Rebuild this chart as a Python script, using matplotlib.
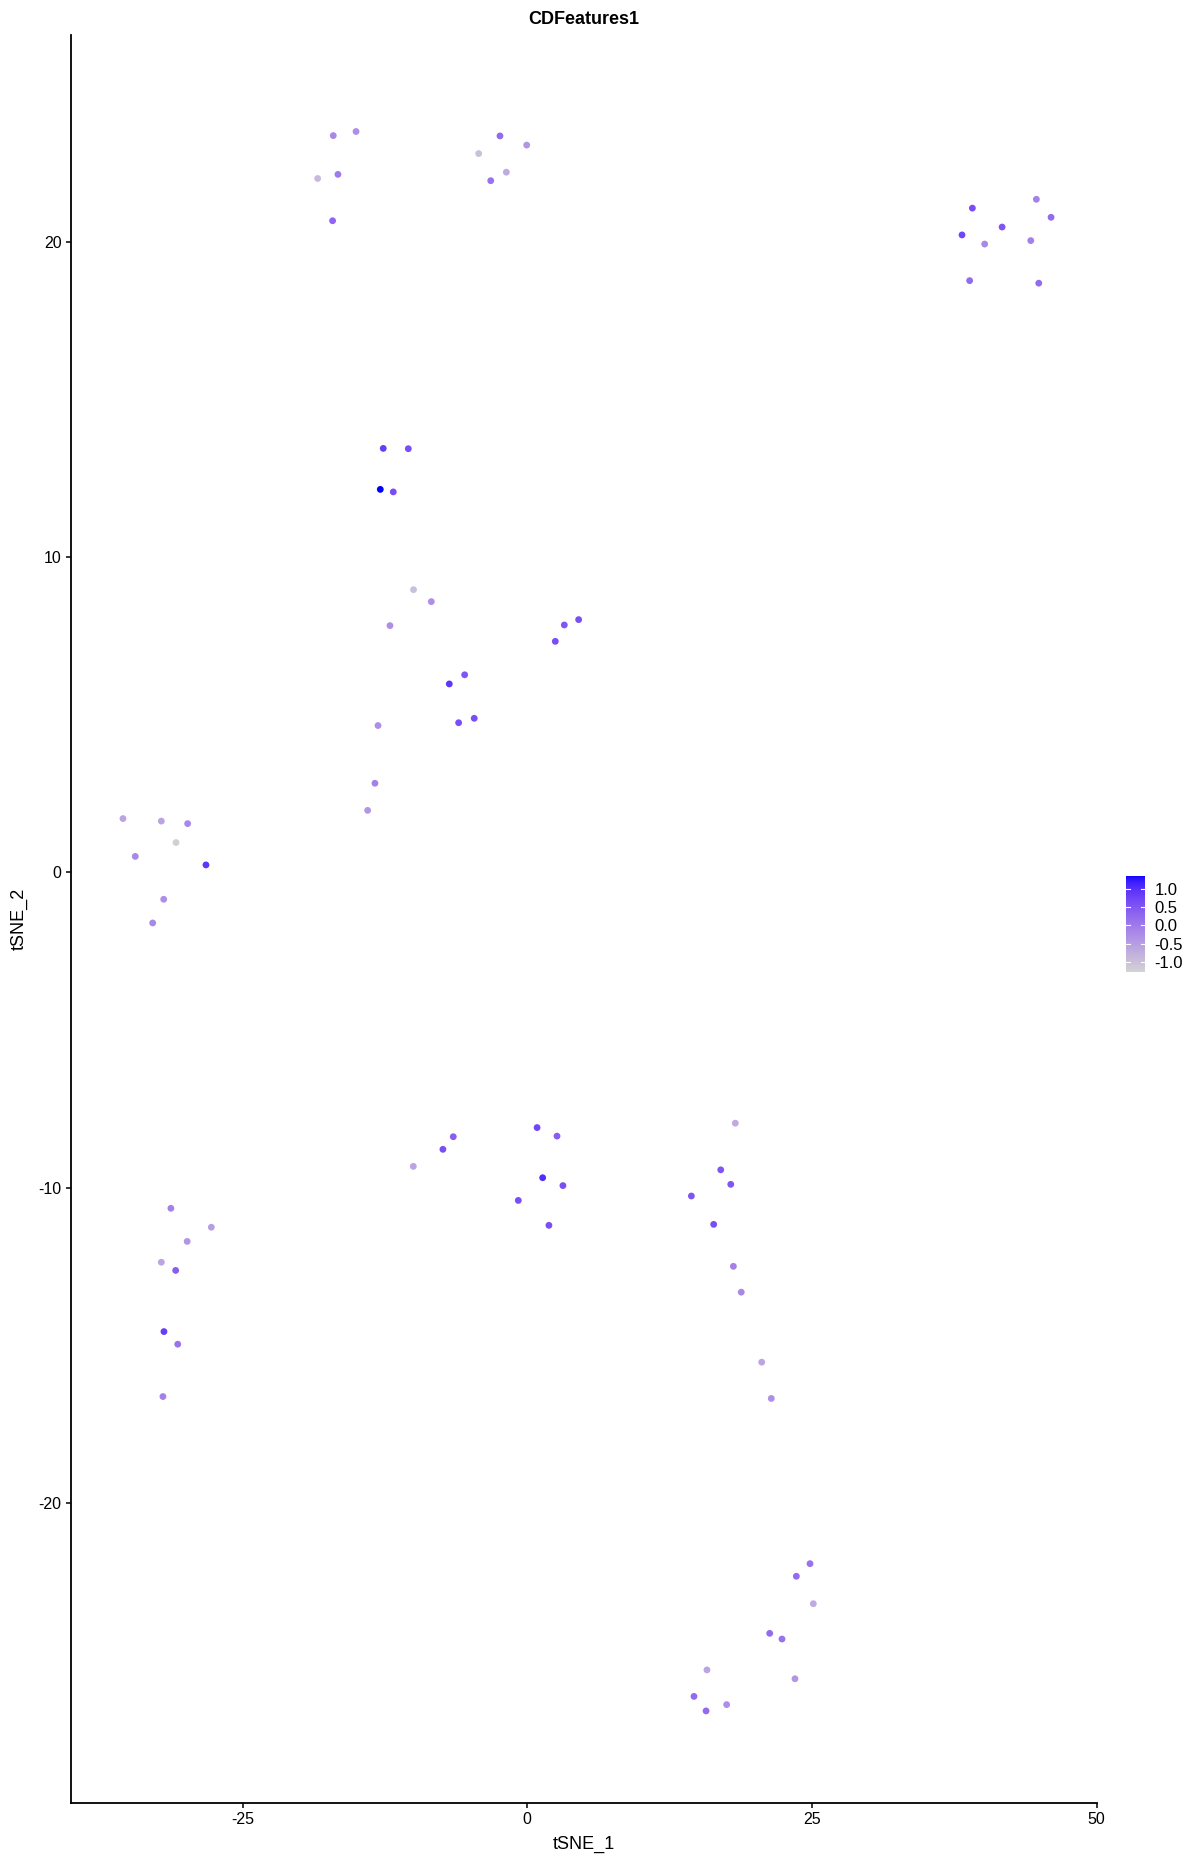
import matplotlib
matplotlib.use("Agg")
import matplotlib.pyplot as plt
from matplotlib.colors import ListedColormap, Normalize
import numpy as np

plt.rcParams["font.family"] = ["Liberation Sans", "DejaVu Sans"]
plt.rcParams["axes.unicode_minus"] = False

TITLE = "CDFeatures1"

tsne_1 = [-17.04, -15.04, -18.41, -16.63, -17.10, -2.40, -0.05, -4.27, -1.84, -3.21,
          39.09, 44.71, 46.00, 41.70, 38.18, 40.17, 44.22, 38.85, 44.92,
          -12.65, -10.45, -12.91, -11.77, -9.99, -8.43, -12.06, 4.51, 3.25, 2.46,
          -5.50, -6.85, -4.66, -6.03, -13.11, -13.38, -14.02,
          -35.51, -32.14, -29.83, -30.85, -34.43, -28.22, -31.93, -32.90,
          -6.50, -7.41, -10.01, 0.86, 2.61, 1.35, 3.13, -0.79, 1.90,
          18.27, 16.99, 17.87, 14.41, 16.37, 18.10, 18.79, 20.59, 21.43,
          -31.30, -27.75, -29.87, -32.14, -30.88, -31.91, -30.70, -32.00,
          24.83, 23.63, 25.12, 21.29, 22.37, 15.78, 23.51, 14.64, 17.51, 15.70]
tsne_2 = [23.37, 23.50, 22.01, 22.14, 20.67, 23.36, 23.07, 22.80, 22.21, 21.94,
          21.07, 21.35, 20.78, 20.47, 20.22, 19.93, 20.04, 18.77, 18.69,
          13.45, 13.44, 12.15, 12.07, 8.97, 8.59, 7.83, 8.02, 7.85, 7.33,
          6.27, 5.98, 4.89, 4.75, 4.66, 2.83, 1.97,
          1.71, 1.63, 1.55, 0.95, 0.51, 0.24, -0.85, -1.60,
          -8.38, -8.78, -9.32, -8.09, -8.36, -9.68, -9.93, -10.40, -11.19,
          -7.95, -9.43, -9.89, -10.26, -11.16, -12.49, -13.31, -15.53, -16.68,
          -10.65, -11.25, -11.70, -12.36, -12.62, -14.56, -14.96, -16.62,
          -21.92, -22.32, -23.19, -24.13, -24.31, -25.29, -25.57, -26.13, -26.39, -26.59]
expr = [-0.2, -0.3, -0.9, 0.0, 0.3, 0.2, -0.4, -1.0, -0.7, 0.1,
        0.6, -0.1, 0.2, 0.5, 0.7, -0.2, -0.1, 0.2, 0.2,
        0.8, 0.6, 1.34, 0.6, -1.0, -0.3, -0.3, 0.6, 0.5, 0.6,
        0.5, 0.9, 0.6, 0.6, -0.3, -0.1, -0.4,
        -0.6, -0.6, -0.2, -1.2, -0.2, 0.9, -0.3, -0.2,
        0.4, 0.6, -0.6, 0.7, 0.4, 1.0, 0.6, 0.6, 0.6,
        -0.7, 0.5, 0.5, 0.5, 0.6, -0.1, -0.2, -0.6, -0.3,
        -0.1, -0.5, -0.4, -0.6, 0.4, 0.8, 0.1, -0.1,
        0.1, 0.2, -0.7, 0.2, 0.1, -0.6, -0.4, 0.2, -0.3, 0.2]

VMIN, VMAX = -1.27, 1.34
CBAR_TICKS = [-1.0, -0.5, 0.0, 0.5, 1.0]
X_TICKS = [-25, 0, 25, 50]
Y_TICKS = [-20, -10, 0, 10, 20]


def lab_to_rgb(L, a, b):
    fy = (L + 16) / 116
    fx = fy + a / 500
    fz = fy - b / 200

    def finv(t):
        return np.where(t > 6 / 29, t ** 3, 3 * (6 / 29) ** 2 * (t - 4 / 29))

    xyz = np.array([0.95047 * finv(fx), finv(fy), 1.08883 * finv(fz)])
    m = np.array([[3.2406, -1.5372, -0.4986],
                  [-0.9689, 1.8758, 0.0415],
                  [0.0557, -0.2040, 1.0570]])
    lin = np.clip(m @ xyz, 0, 1)
    rgb = np.where(lin <= 0.0031308, 12.92 * lin, 1.055 * lin ** (1 / 2.4) - 0.055)
    return np.clip(rgb.T, 0, 1)


# lightgrey -> blue, interpolated in Lab like ggplot
t = np.linspace(0, 1, 256)
grey_lab = np.array([84.556, 0.0, 0.0])
blue_lab = np.array([32.303, 79.197, -107.864])
lab = grey_lab[None, :] + t[:, None] * (blue_lab - grey_lab)[None, :]
cmap = ListedColormap(lab_to_rgb(lab[:, 0], lab[:, 1], lab[:, 2]))
norm = Normalize(VMIN, VMAX)

W, H = 1200, 1868
fig = plt.figure(figsize=(W / 100, H / 100), dpi=100)
# panel: x 70.7..1096.6 px, y 34.7..1803.3 px
ax = fig.add_axes([70.7 / W, 1 - 1803.3 / H, (1096.6 - 70.7) / W, (1803.3 - 34.7) / H])

ax.scatter(tsne_1, tsne_2, c=expr, cmap=cmap, norm=norm, s=24, linewidths=0)

ax.set_xlim(-40.1, 50)
ax.set_ylim(-29.52, 26.57)
ax.set_xticks(X_TICKS)
ax.set_yticks(Y_TICKS)
for side in ["top", "right"]:
    ax.spines[side].set_visible(False)
for side in ["left", "bottom"]:
    ax.spines[side].set_linewidth(1.3)
ax.tick_params(length=3.5, width=1.1, labelsize=11.5, colors="black", pad=3)
ax.set_xlabel("tSNE_1", fontsize=13, labelpad=6)
ax.set_ylabel("tSNE_2", fontsize=13, labelpad=8)
ax.set_title(TITLE, fontsize=13, fontweight="bold", pad=8)

# colour bar
cax = fig.add_axes([1126 / W, 1 - 972 / H, 19 / W, 96 / H])
grad = np.linspace(VMIN, VMAX, 200).reshape(-1, 1)
cax.imshow(grad, aspect="auto", origin="lower", cmap=cmap, norm=norm,
           extent=[0, 1, VMIN, VMAX])
cax.set_xlim(0, 1)
cax.set_ylim(VMIN, VMAX)
cax.set_xticks([])
cax.set_yticks(CBAR_TICKS)
cax.yaxis.tick_right()
cax.tick_params(axis="y", length=0, labelsize=12, pad=7)
for v in CBAR_TICKS:
    cax.plot([0, 0.2], [v, v], color="white", lw=0.8)
    cax.plot([0.8, 1], [v, v], color="white", lw=0.8)
for s in cax.spines.values():
    s.set_visible(False)

fig.savefig("out.png", dpi=100)
